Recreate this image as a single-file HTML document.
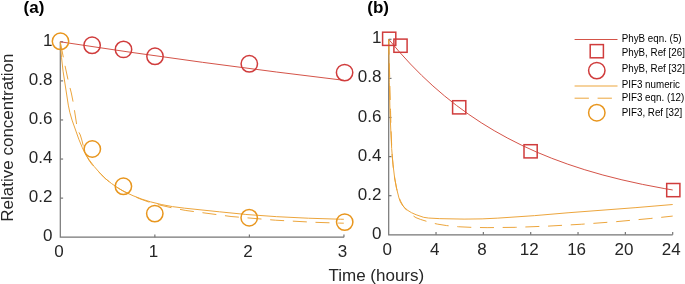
<!DOCTYPE html>
<html><head><meta charset="utf-8"><style>
html,body{margin:0;padding:0;background:#fff;}
body{width:685px;height:284px;overflow:hidden;}
svg{display:block;font-family:"Liberation Sans",Arial,Helvetica,sans-serif;}
</style></head><body>
<svg width="685" height="284" viewBox="0 0 685 284">
<rect width="685" height="284" fill="#fff"/>
<g fill="#262626">
<path d="M60.3,41.80 V237.2 H343.95" fill="none" stroke="#767676" stroke-width="1.2"/>
<path d="M60.3,198.12 h2.8" stroke="#767676" stroke-width="1.2"/>
<path d="M60.3,159.04 h2.8" stroke="#767676" stroke-width="1.2"/>
<path d="M60.3,119.96 h2.8" stroke="#767676" stroke-width="1.2"/>
<path d="M60.3,80.88 h2.8" stroke="#767676" stroke-width="1.2"/>
<path d="M60.3,41.80 h2.8" stroke="#767676" stroke-width="1.2"/>
<path d="M154.85,237.2 v-2.8" stroke="#767676" stroke-width="1.2"/>
<path d="M249.40,237.2 v-2.8" stroke="#767676" stroke-width="1.2"/>
<path d="M343.95,237.2 v-2.8" stroke="#767676" stroke-width="1.2"/>
<path d="M388.7,39.30 V234.8 H672.69" fill="none" stroke="#767676" stroke-width="1.2"/>
<path d="M388.7,195.70 h2.8" stroke="#767676" stroke-width="1.2"/>
<path d="M388.7,156.60 h2.8" stroke="#767676" stroke-width="1.2"/>
<path d="M388.7,117.50 h2.8" stroke="#767676" stroke-width="1.2"/>
<path d="M388.7,78.40 h2.8" stroke="#767676" stroke-width="1.2"/>
<path d="M388.7,39.30 h2.8" stroke="#767676" stroke-width="1.2"/>
<path d="M436.03,234.8 v-2.8" stroke="#767676" stroke-width="1.2"/>
<path d="M483.36,234.8 v-2.8" stroke="#767676" stroke-width="1.2"/>
<path d="M530.70,234.8 v-2.8" stroke="#767676" stroke-width="1.2"/>
<path d="M578.03,234.8 v-2.8" stroke="#767676" stroke-width="1.2"/>
<path d="M625.36,234.8 v-2.8" stroke="#767676" stroke-width="1.2"/>
<path d="M672.69,234.8 v-2.8" stroke="#767676" stroke-width="1.2"/>
<path d="M60.30,41.80 L130.50,52.25 L202.60,62.33 L276.59,72.02 L343.95,80.32" fill="none" stroke="#d24a3e" stroke-width="0.95"/>
<path d="M60.30,41.80 L61.55,57.71 L63.05,71.13 L68.30,105.11 L69.80,112.33 L72.05,120.10 L78.80,139.20 L82.30,147.64 L85.30,153.74 L89.30,160.03 L94.05,166.35 L100.55,173.80 L105.30,178.54 L111.55,183.55 L118.30,188.21 L124.30,191.65 L133.05,195.73 L141.80,199.14 L150.30,201.78 L161.80,204.61 L172.55,206.63 L184.55,208.17 L219.55,211.82 L245.80,214.44 L276.55,216.67 L308.55,218.22 L340.30,219.23 L343.80,219.30" fill="none" stroke="#eba032" stroke-width="0.95"/>
<path d="M60.30,41.80 L64.30,62.32 L68.55,82.21 L71.30,92.97 L73.30,102.80 L76.80,125.42 L77.80,129.70 L78.80,132.07 L80.30,135.00 L81.80,139.98 L84.80,151.89 L86.05,155.11 L88.80,160.03 L91.80,164.26 L96.05,169.06 L104.30,177.62 L108.80,181.44 L115.55,186.36 L122.30,190.54 L130.55,194.75 L139.55,198.68 L148.55,201.94 L157.80,204.60 L173.05,208.09 L185.80,210.47 L231.05,216.50 L275.30,220.19 L313.80,222.28 L339.55,223.12 L343.80,223.20" fill="none" stroke="#eba032" stroke-width="0.95" stroke-dasharray="14.0 8.7" stroke-dashoffset="20.92"/>
<path d="M388.70,39.30 L399.61,52.19 L410.41,64.00 L421.65,75.38 L432.89,85.90 L444.47,95.89 L456.40,105.37 L468.66,114.32 L481.26,122.75 L494.20,130.66 L507.83,138.24 L521.80,145.30 L536.44,151.99 L551.77,158.29 L567.78,164.18 L584.81,169.77 L602.86,175.00 L621.94,179.84 L642.38,184.37 L664.18,188.52 L672.69,189.98" fill="none" stroke="#d24a3e" stroke-width="0.95"/>
<path d="M388.70,39.00 L389.31,82.33 L390.07,114.69 L391.67,148.56 L393.03,164.68 L394.62,177.74 L396.50,188.22 L398.97,197.97 L400.35,201.81 L402.23,204.94 L404.51,207.57 L407.87,210.44 L411.44,212.66 L416.09,214.72 L423.70,217.33 L428.56,218.04 L439.77,218.65 L464.06,219.10 L482.12,218.89 L497.69,218.14 L534.43,215.65 L568.06,212.78 L635.95,207.62 L672.69,204.50" fill="none" stroke="#eba032" stroke-width="0.95"/>
<path d="M388.70,39.00 L390.52,110.24 L391.02,129.31 L391.61,144.43 L392.14,155.65 L393.29,167.29 L394.81,178.99 L396.60,188.42 L398.67,196.13 L400.45,200.93 L402.93,205.57 L404.91,208.35 L410.25,213.94 L415.99,217.67 L420.44,219.40 L430.43,222.52 L437.28,224.08 L446.62,225.59 L458.45,226.74 L472.78,227.43 L487.10,227.63 L515.75,227.33 L548.13,226.12 L581.76,224.23 L616.64,221.62 L650.89,218.44 L672.69,216.09" fill="none" stroke="#eba032" stroke-width="0.95" stroke-dasharray="14.0 8.7" stroke-dashoffset="21.10"/>
<circle cx="92.10" cy="45.30" r="8.2" fill="none" stroke="#d03c3c" stroke-width="1.5"/>
<circle cx="123.50" cy="49.40" r="8.2" fill="none" stroke="#d03c3c" stroke-width="1.5"/>
<circle cx="155.00" cy="56.30" r="8.2" fill="none" stroke="#d03c3c" stroke-width="1.5"/>
<circle cx="249.30" cy="63.80" r="8.2" fill="none" stroke="#d03c3c" stroke-width="1.5"/>
<circle cx="344.60" cy="72.60" r="8.2" fill="none" stroke="#d03c3c" stroke-width="1.5"/>
<circle cx="60.50" cy="41.30" r="8.2" fill="none" stroke="#e8961e" stroke-width="1.5"/>
<circle cx="92.30" cy="149.00" r="8.2" fill="none" stroke="#e8961e" stroke-width="1.5"/>
<circle cx="123.40" cy="186.30" r="8.2" fill="none" stroke="#e8961e" stroke-width="1.5"/>
<circle cx="154.80" cy="213.60" r="8.2" fill="none" stroke="#e8961e" stroke-width="1.5"/>
<circle cx="249.20" cy="217.70" r="8.2" fill="none" stroke="#e8961e" stroke-width="1.5"/>
<circle cx="344.70" cy="222.10" r="8.2" fill="none" stroke="#e8961e" stroke-width="1.5"/>
<rect x="382.60" y="32.20" width="13.2" height="13.2" fill="none" stroke="#d03c3c" stroke-width="1.5"/>
<rect x="393.90" y="39.10" width="13.2" height="13.2" fill="none" stroke="#d03c3c" stroke-width="1.5"/>
<rect x="452.60" y="100.70" width="13.2" height="13.2" fill="none" stroke="#d03c3c" stroke-width="1.5"/>
<rect x="524.00" y="144.70" width="13.2" height="13.2" fill="none" stroke="#d03c3c" stroke-width="1.5"/>
<rect x="666.70" y="183.50" width="13.2" height="13.2" fill="none" stroke="#d03c3c" stroke-width="1.5"/>
<text x="52.40" y="241.20" text-anchor="end" font-size="17" >0</text>
<text x="381.50" y="238.80" text-anchor="end" font-size="17" >0</text>
<text x="52.40" y="202.12" text-anchor="end" font-size="17" >0.2</text>
<text x="381.50" y="199.70" text-anchor="end" font-size="17" >0.2</text>
<text x="52.40" y="163.04" text-anchor="end" font-size="17" >0.4</text>
<text x="381.50" y="160.60" text-anchor="end" font-size="17" >0.4</text>
<text x="52.40" y="123.96" text-anchor="end" font-size="17" >0.6</text>
<text x="381.50" y="121.50" text-anchor="end" font-size="17" >0.6</text>
<text x="52.40" y="84.88" text-anchor="end" font-size="17" >0.8</text>
<text x="381.50" y="82.40" text-anchor="end" font-size="17" >0.8</text>
<text x="52.40" y="45.80" text-anchor="end" font-size="17" >1</text>
<text x="381.50" y="43.30" text-anchor="end" font-size="17" >1</text>
<text x="58.90" y="256.50" text-anchor="middle" font-size="17" >0</text>
<text x="153.45" y="256.50" text-anchor="middle" font-size="17" >1</text>
<text x="248.00" y="256.50" text-anchor="middle" font-size="17" >2</text>
<text x="342.55" y="256.50" text-anchor="middle" font-size="17" >3</text>
<text x="387.30" y="254.70" text-anchor="middle" font-size="17" >0</text>
<text x="434.63" y="254.70" text-anchor="middle" font-size="17" >4</text>
<text x="481.96" y="254.70" text-anchor="middle" font-size="17" >8</text>
<text x="529.30" y="254.70" text-anchor="middle" font-size="17" >12</text>
<text x="576.63" y="254.70" text-anchor="middle" font-size="17" >16</text>
<text x="623.96" y="254.70" text-anchor="middle" font-size="17" >20</text>
<text x="671.29" y="254.70" text-anchor="middle" font-size="17" >24</text>
<text x="376.30" y="280.60" text-anchor="middle" font-size="17" >Time (hours)</text>
<text transform="translate(12.6,137.6) rotate(-90)" text-anchor="middle" font-size="17">Relative concentration</text>
<text x="23.6" y="12.8" font-size="17" font-weight="bold" fill="#000">(a)</text>
<text x="367.3" y="12.8" font-size="17" font-weight="bold" fill="#000">(b)</text>
<path d="M574.6,39.5 H617.5" stroke="#d24a3e" stroke-width="0.95"/>
<rect x="590.20" y="44.60" width="13.2" height="13.2" fill="none" stroke="#d03c3c" stroke-width="1.5"/>
<circle cx="596.80" cy="70.60" r="8.2" fill="none" stroke="#d03c3c" stroke-width="1.5"/>
<path d="M574.6,86 H617.5" stroke="#eba032" stroke-width="0.95"/>
<path d="M574.6,98.2 H617.5" stroke="#eba032" stroke-width="0.95" stroke-dasharray="14.3 8.7"/>
<circle cx="596.80" cy="112.70" r="8.2" fill="none" stroke="#e8961e" stroke-width="1.5"/>
<text x="621.70" y="42.30" text-anchor="start" font-size="10.6" fill="#000" textLength="59.92" lengthAdjust="spacingAndGlyphs">PhyB eqn. (5)</text>
<text x="621.70" y="55.50" text-anchor="start" font-size="10.6" fill="#000" textLength="63.19" lengthAdjust="spacingAndGlyphs">PhyB, Ref [26]</text>
<text x="621.70" y="71.90" text-anchor="start" font-size="10.6" fill="#000" textLength="63.19" lengthAdjust="spacingAndGlyphs">PhyB, Ref [32]</text>
<text x="621.70" y="87.70" text-anchor="start" font-size="10.6" fill="#000" textLength="58.27" lengthAdjust="spacingAndGlyphs">PIF3 numeric</text>
<text x="621.70" y="100.60" text-anchor="start" font-size="10.6" fill="#000" textLength="62.64" lengthAdjust="spacingAndGlyphs">PIF3 eqn. (12)</text>
<text x="621.70" y="116.20" text-anchor="start" font-size="10.6" fill="#000" textLength="60.46" lengthAdjust="spacingAndGlyphs">PIF3, Ref [32]</text>
</g>
</svg>
</body></html>
